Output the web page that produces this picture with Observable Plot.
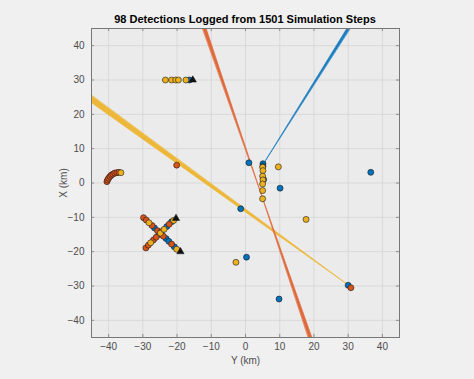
<!DOCTYPE html>
<html>
<head>
<meta charset="utf-8">
<script src="https://cdn.jsdelivr.net/npm/d3@7"></script>
<script src="https://cdn.jsdelivr.net/npm/@observablehq/plot@0.6"></script>
<style>
  html, body { margin: 0; padding: 0; background: #F0F0F0; }
  #wrap { width: 474px; height: 379px; position: relative; background: #F0F0F0; font-family: "Liberation Sans", Arial, sans-serif; }
  #title { height: 26px; box-sizing: border-box; padding-top: 13px; padding-left: 16px; text-align: center; font-weight: bold; font-size: 11px; line-height: 13px; color: #000; }
</style>
</head>
<body>
<div id="wrap">
  <div id="title">98 Detections Logged from 1501 Simulation Steps</div>
  <div id="chart"></div>
</div>
<script>
// Axis settings
const xDomain = [-45, 45];
const yDomain = [-45, 45];
const xTicks = [-40, -30, -20, -10, 0, 10, 20, 30, 40];
const yTicks = [-40, -30, -20, -10, 0, 10, 20, 30, 40];

// Sensor beams (polygon vertices, Y km / X km)
const beamId = ["blue","blue","blue", "orangeA","orangeA","orangeA", "orangeB","orangeB","orangeB", "yellow","yellow","yellow"];
const beamX  = [5.5, 29.6, 30.5,   -12.5, -11.5, 4.5,   4.5, 19.4, 18.4,   30.0, -45, -45];
const beamY  = [6.0, 45, 45,        45, 45, -3.0,       -3.0, -45, -45,     -29.7, 23.4, 25.5];

// Detections by sensor colour
const blueX = [-16.4, -26.6, -23.2, -22.4, -20.8, -25.3, -23.0, -21.6, 5.1, 5.1, 5.3, 1.0, 10.1, -1.4, 0.3, 9.8, 30.0, 36.6];
const blueY = [30.0, -13.1, -16.2, -17.0, -18.6, -15.0, -12.7, -11.3, 5.6, 4.9, 1.0, 5.9, -1.5, -7.5, -21.6, -33.8, -29.8, 3.1];

const orangeX = [-40.5, -40.3, -40.0, -39.6, -39.2, -38.7, -38.2, -37.6, -37.0, -20.1,
                 -29.8, -29.0, -27.3, -25.7, -24.0, -21.6,
                 -29.1, -28.4, -26.9, -26.1, -24.6, -22.3, 30.8];
const orangeY = [0.4, 0.9, 1.4, 1.9, 2.3, 2.6, 2.9, 3.0, 3.1, 5.2,
                 -10.1, -10.8, -12.4, -13.9, -15.5, -17.8,
                 -18.9, -18.1, -16.6, -15.8, -14.2, -12.0, -30.5];

const yellowX = [-23.4, -21.6, -20.4, -19.6, -17.4, -36.4,
                 -28.2, -24.9, -20.1, -27.7, -23.8, -21.0,
                 5.0, 5.1, 5.0, 5.1, 5.0, 5.0, 5.0, 9.6, -2.8, 17.7];
const yellowY = [30.0, 30.0, 30.0, 30.0, 30.0, 3.0,
                 -11.6, -14.6, -19.3, -17.4, -13.5, -10.9,
                 4.6, 3.6, 2.0, 0.9, -0.3, -2.2, -4.6, 4.7, -23.1, -10.6];

// Platform positions (triangles)
const truthX = [-15.4, -20.3, -19.0];
const truthY = [30.0, -10.3, -20.0];

const beams = beamId.map((id, i) => ({id, x: beamX[i], y: beamY[i]}));
const pts = (xs, ys) => xs.map((x, i) => ({x, y: ys[i]}));

const colors = {blue: "#1A7DC0", orangeA: "#E0693A", orangeB: "#E0693A", yellow: "#EDB83A"};

const marks = [
  Plot.frame({fill: "#EBEBEB", stroke: null}),
  Plot.gridX(xTicks, {stroke: "#D4D4D4", strokeOpacity: 1, strokeWidth: 0.8}),
  Plot.gridY(yTicks, {stroke: "#D4D4D4", strokeOpacity: 1, strokeWidth: 0.8}),
];
for (const id of ["yellow", "orangeA", "orangeB", "blue"]) {
  marks.push(Plot.line(beams.filter(d => d.id === id), {
    x: "x", y: "y", fill: colors[id], stroke: colors[id], strokeWidth: 0.7,
    curve: "linear-closed"
  }));
}
marks.push(
  Plot.dot(pts(blueX, blueY), {x: "x", y: "y", r: 3.0, fill: "#0072BD", stroke: "#1a1a1a", strokeWidth: 0.6}),
  Plot.dot(pts(orangeX, orangeY), {x: "x", y: "y", r: 3.0, fill: "#D95319", stroke: "#1a1a1a", strokeWidth: 0.6}),
  Plot.dot(pts(yellowX, yellowY), {x: "x", y: "y", r: 3.0, fill: "#EDB120", stroke: "#1a1a1a", strokeWidth: 0.6}),
  Plot.dot(pts(truthX, truthY), {x: "x", y: "y", r: 2.7, symbol: "triangle", fill: "#111", stroke: "#111", strokeWidth: 0.5}),
  // inward ticks
  Plot.ruleX(xTicks, {y1: yDomain[0], y2: yDomain[0] + 0.9, stroke: "#777", strokeWidth: 0.8}),
  Plot.ruleX(xTicks, {y1: yDomain[1], y2: yDomain[1] - 0.9, stroke: "#777", strokeWidth: 0.8}),
  Plot.ruleY(yTicks, {x1: xDomain[0], x2: xDomain[0] + 0.9, stroke: "#777", strokeWidth: 0.8}),
  Plot.ruleY(yTicks, {x1: xDomain[1], x2: xDomain[1] - 0.9, stroke: "#777", strokeWidth: 0.8}),
  Plot.frame({stroke: "#777", strokeWidth: 1}),
  Plot.axisX(xTicks, {tickSize: 0, tickPadding: 5, label: "Y (km)", labelArrow: "none", labelAnchor: "center", labelOffset: 26, fontSize: 10, color: "#4d4d4d"}),
  Plot.axisY(yTicks, {tickSize: 0, tickPadding: 7, label: "X (km)", labelArrow: "none", labelAnchor: "center", labelOffset: 32, fontSize: 10, color: "#4d4d4d"})
);

const chart = Plot.plot({
  width: 474,
  height: 353,
  marginLeft: 91,
  marginRight: 75,
  marginTop: 2,
  marginBottom: 42,
  x: {domain: xDomain, label: "Y (km)"},
  y: {domain: yDomain, label: "X (km)"},
  style: {background: "transparent", fontFamily: "'Liberation Sans', Arial, sans-serif", fontSize: "10px", color: "#4d4d4d"},
  marks
});
document.getElementById("chart").appendChild(chart);
</script>
</body>
</html>
